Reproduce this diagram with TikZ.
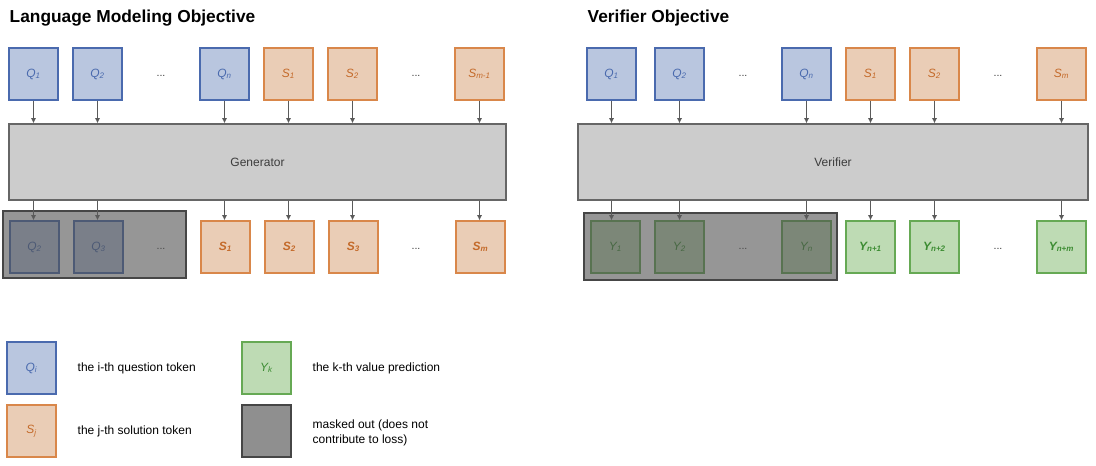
\documentclass[tikz,border=0pt]{standalone}
\usepackage{fontspec}
\setmainfont{Liberation Sans}
\usetikzlibrary{arrows.meta}
\begin{document}
\begin{tikzpicture}[x=0.75pt,y=-0.75pt,
  tok/.style={minimum width=36.75pt,minimum height=39pt,inner sep=0pt,line width=0.9pt,font=\fontsize{9}{10}\selectfont\itshape},
  qb/.style={tok,draw={rgb,255:red,74;green,106;blue,174},fill={rgb,255:red,185;green,198;blue,223},text={rgb,255:red,74;green,106;blue,174}},
  sb/.style={tok,draw={rgb,255:red,217;green,135;blue,74},fill={rgb,255:red,234;green,205;blue,182},text={rgb,255:red,196;green,106;blue,42}},
  yb/.style={tok,draw={rgb,255:red,102;green,169;blue,84},fill={rgb,255:red,190;green,219;blue,180},text={rgb,255:red,60;green,140;blue,50}},
  big/.style={draw={rgb,255:red,102;green,102;blue,102},fill={rgb,255:red,204;green,204;blue,204},line width=0.9pt,inner sep=0pt,font=\fontsize{9}{10}\selectfont,text={rgb,255:red,60;green,60;blue,60}},
  mask/.style={draw={rgb,255:red,70;green,70;blue,70},fill={rgb,255:red,80;green,80;blue,80},fill opacity=0.6,line width=1pt,inner sep=0pt},
  dots/.style={font=\fontsize{8}{9}\selectfont,text={rgb,255:red,60;green,60;blue,60}},
  arr/.style={draw={rgb,255:red,90;green,90;blue,90},line width=0.8pt,-{Latex[length=4pt,width=4pt]}},
  ttl/.style={font=\fontsize{13}{15}\selectfont\bfseries,anchor=west},
  lg/.style={font=\fontsize{9}{11}\selectfont,anchor=west,align=left}]
\useasboundingbox (0,0) rectangle (1096,466);
\node[ttl] (t1) at (5,18) {Language Modeling Objective};
\node[ttl] (t2) at (583,18) {Verifier Objective};
% left top
\node[qb] (a1) at (33.5,74) {Q\textsubscript{1}};
\node[qb] (a2) at (97.5,74) {Q\textsubscript{2}};
\node[dots] (ad1) at (161,76) {...};
\node[qb] (a3) at (224.5,74) {Q\textsubscript{n}};
\node[sb] (a4) at (288.5,74) {S\textsubscript{1}};
\node[sb] (a5) at (352.5,74) {S\textsubscript{2}};
\node[dots] (ad2) at (416,76) {...};
\node[sb] (a6) at (479.5,74) {S\textsubscript{m-1}};
\node[big,minimum width=372.75pt,minimum height=57pt] (gen) at (257.5,162) {Generator};
% left bottom
\node[qb] (b1) at (34.5,247) {Q\textsubscript{2}};
\node[qb] (b2) at (98.5,247) {Q\textsubscript{3}};
\node[dots] (bd1) at (161,249) {...};
\node[sb,font=\fontsize{9}{10}\selectfont\bfseries\itshape] (b3) at (225.5,247) {S\textsubscript{1}};
\node[sb,font=\fontsize{9}{10}\selectfont\bfseries\itshape] (b4) at (289.5,247) {S\textsubscript{2}};
\node[sb,font=\fontsize{9}{10}\selectfont\bfseries\itshape] (b5) at (353.5,247) {S\textsubscript{3}};
\node[dots] (bd2) at (416,249) {...};
\node[sb,font=\fontsize{9}{10}\selectfont\bfseries\itshape] (b6) at (480.5,247) {S\textsubscript{m}};
\node[mask,minimum width=137.25pt,minimum height=50.25pt] (m1) at (94.5,244.5) {};
% right top
\node[qb] (c1) at (611.5,74) {Q\textsubscript{1}};
\node[qb] (c2) at (679.5,74) {Q\textsubscript{2}};
\node[dots] (cd1) at (743,76) {...};
\node[qb] (c3) at (806.5,74) {Q\textsubscript{n}};
\node[sb] (c4) at (870.5,74) {S\textsubscript{1}};
\node[sb] (c5) at (934.5,74) {S\textsubscript{2}};
\node[dots] (cd2) at (998,76) {...};
\node[sb] (c6) at (1061.5,74) {S\textsubscript{m}};
\node[big,minimum width=382.5pt,minimum height=57pt] (ver) at (833,162) {Verifier};
% right bottom
\node[yb] (d1) at (615.5,247) {Y\textsubscript{1}};
\node[yb] (d2) at (679.5,247) {Y\textsubscript{2}};
\node[dots] (dd1) at (743,249) {...};
\node[yb] (d3) at (806.5,247) {Y\textsubscript{n}};
\node[yb,font=\fontsize{9}{10}\selectfont\bfseries\itshape] (d4) at (870.5,247) {Y\textsubscript{n+1}};
\node[yb,font=\fontsize{9}{10}\selectfont\bfseries\itshape] (d5) at (934.5,247) {Y\textsubscript{n+2}};
\node[dots] (dd2) at (998,249) {...};
\node[yb,font=\fontsize{9}{10}\selectfont\bfseries\itshape] (d6) at (1061.5,247) {Y\textsubscript{n+m}};
\node[mask,minimum width=189.75pt,minimum height=50.25pt] (m2) at (710.5,246.5) {};
% arrows
\foreach \n in {a1,a2,a3,a4,a5,a6} \draw[arr] (\n.south) -- (\n.south |- gen.north);
\foreach \n in {c1,c2,c3,c4,c5,c6} \draw[arr] (\n.south) -- (\n.south |- ver.north);
\foreach \n in {a1,a2} \draw[arr] (\n.south |- gen.south) -- (\n.south |- b1.north);
\foreach \n in {a3,a4,a5,a6} \draw[arr] (\n.south |- gen.south) -- (\n.south |- b3.north);
\foreach \n in {c1,c2,c3,c4,c5,c6} \draw[arr] (\n.south |- ver.south) -- (\n.south |- d1.north);
% legend
\node[qb] (l1) at (31.5,368) {Q\textsubscript{i}};
\node[sb] (l2) at (31.5,431) {S\textsubscript{j}};
\node[yb] (l3) at (266.5,368) {Y\textsubscript{k}};
\node[big,fill={rgb,255:red,143;green,143;blue,143},draw={rgb,255:red,70;green,70;blue,70},minimum width=36.75pt,minimum height=39pt] (l4) at (266.5,431) {};
\node[lg] (lt1) at (73,368) {the i-th question token};
\node[lg] (lt2) at (73,431) {the j-th solution token};
\node[lg] (lt3) at (308,368) {the k-th value prediction};
\node[lg] (lt4) at (308,433) {masked out (does not\\contribute to loss)};
\end{tikzpicture}
\end{document}
